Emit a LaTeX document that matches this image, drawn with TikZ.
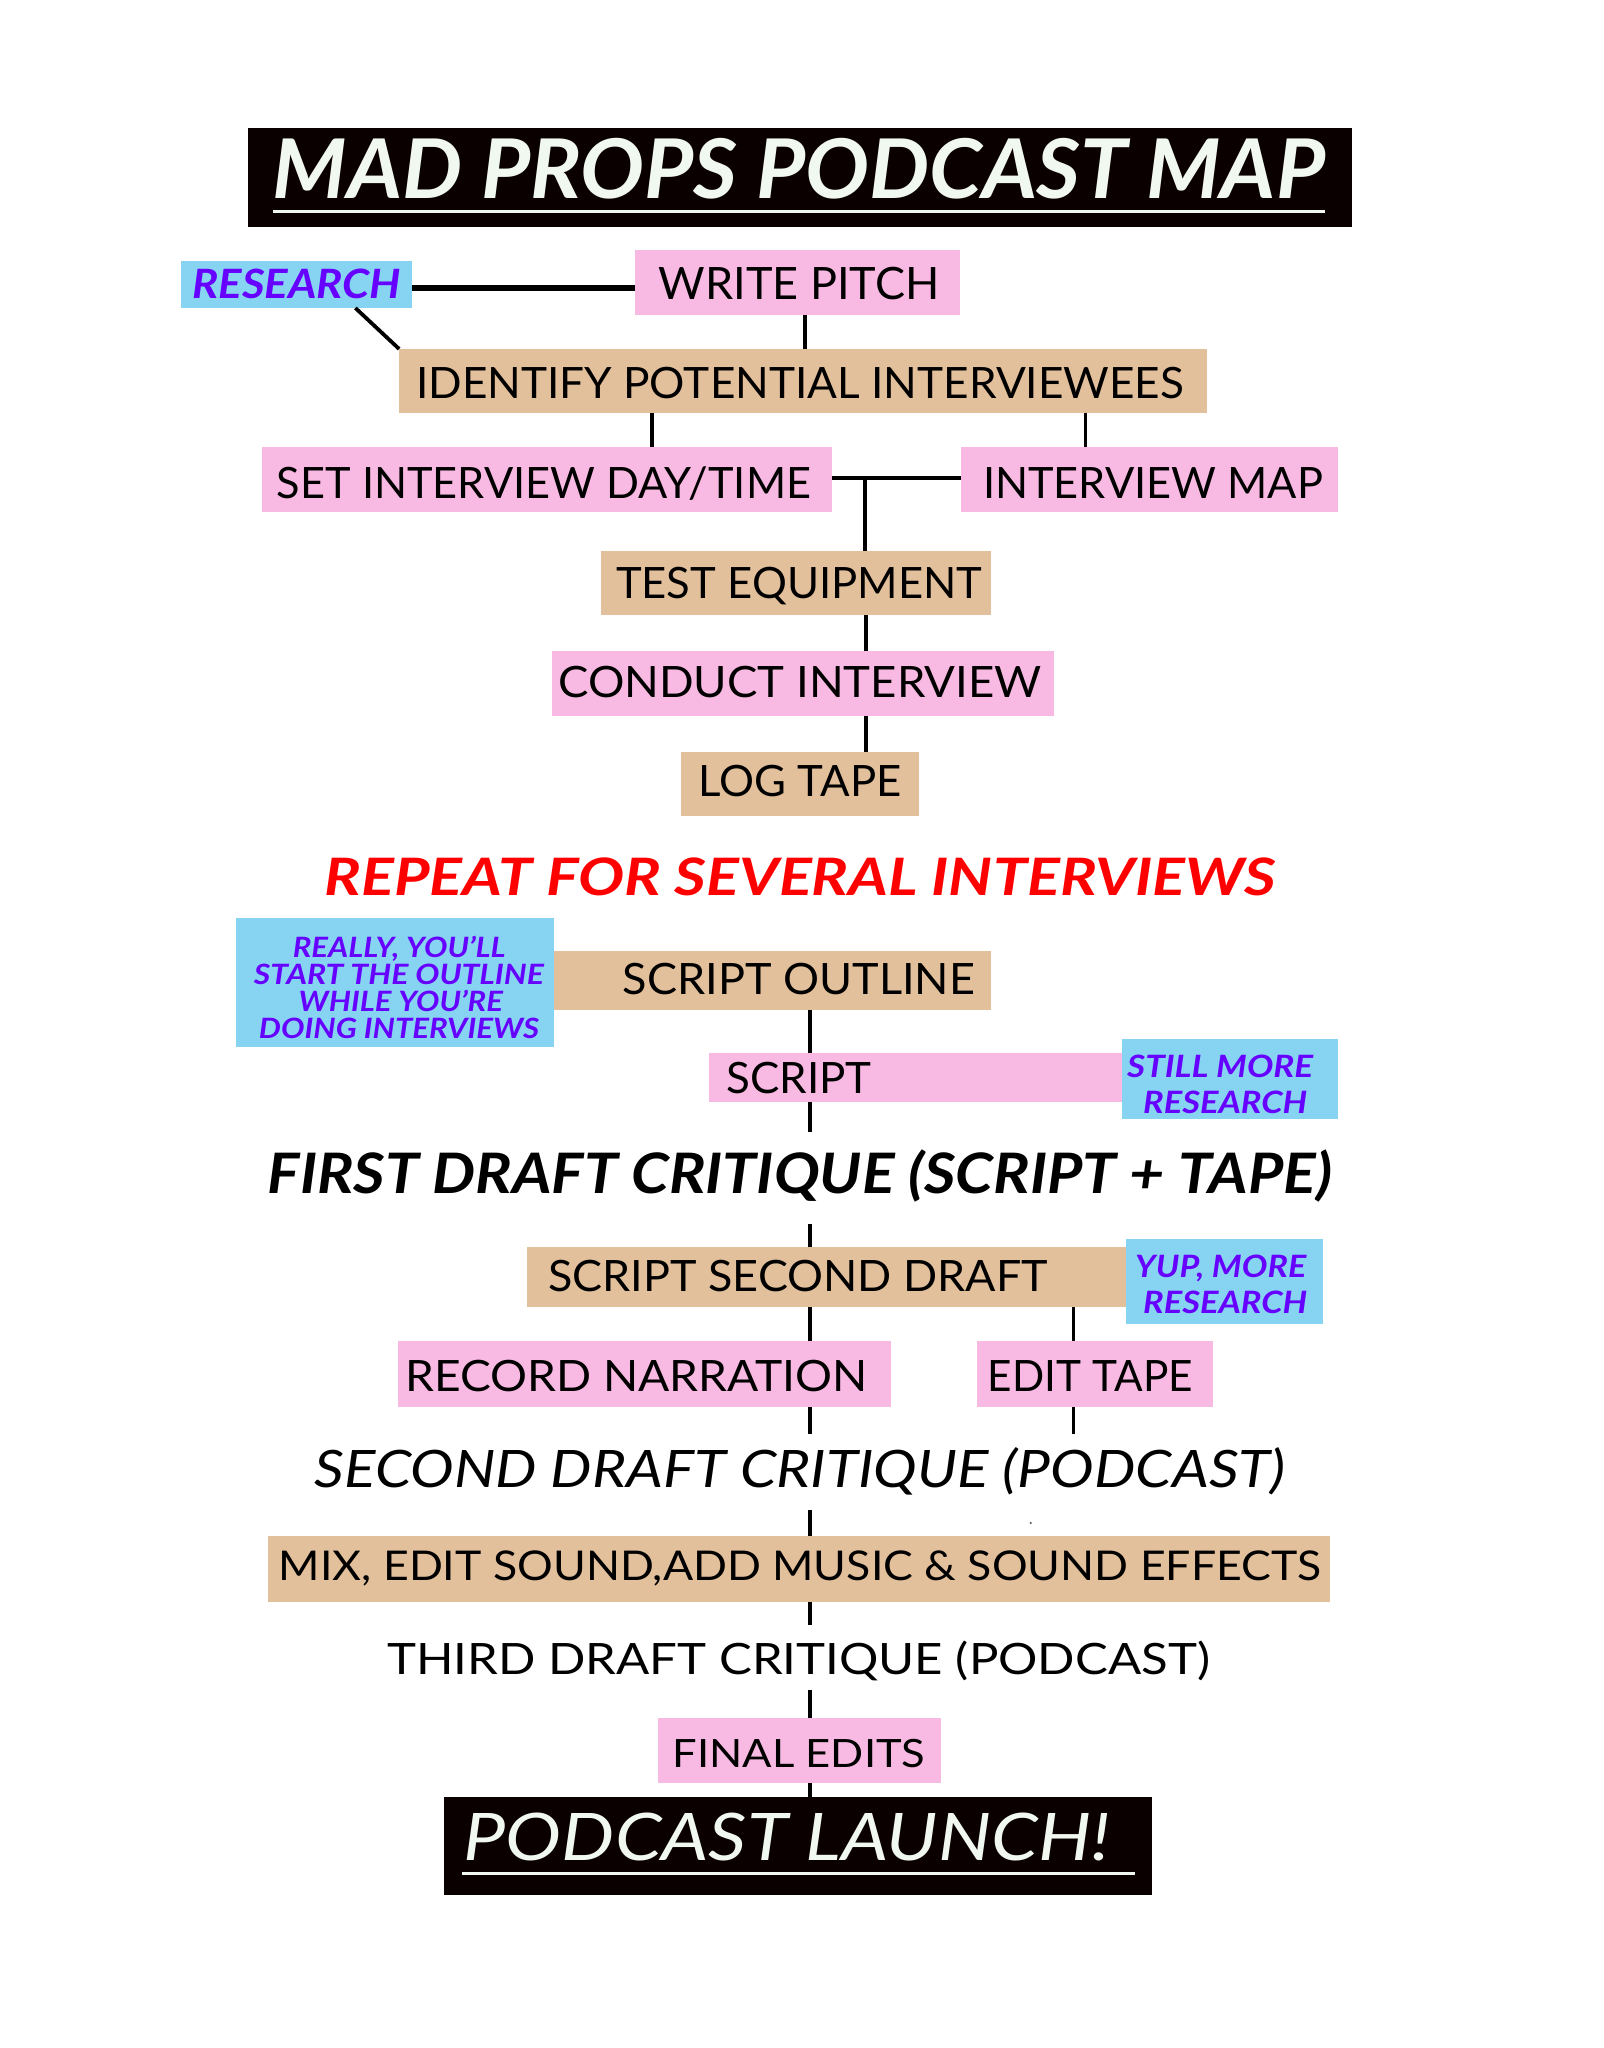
\documentclass[tikz,border=0pt]{standalone}
\usepackage{fontspec}
\setmainfont{Lato}
\usepackage{graphicx}
\definecolor{pinkc}{RGB}{248,186,226}
\definecolor{tanc}{RGB}{227,192,156}
\definecolor{bluec}{RGB}{135,212,242}
\definecolor{purpc}{RGB}{102,0,255}
\definecolor{redc}{RGB}{255,0,0}
\definecolor{blackc}{RGB}{10,0,0}
\definecolor{titlew}{RGB}{240,248,240}
\newlength\fitlen
\newcommand\fitw[2]{\setlength\fitlen{#1}\setlength\fitlen{0.9946\fitlen}\resizebox{\fitlen}{\height}{#2}}
\newcommand\bx[6]{\node[#2, minimum width={(#5-#3)*0.4973pt}, minimum height={(#6-#4)*0.5pt}] (#1) at ({(#3+#5)/2},{(#4+#6)/2}) {};}
\newcommand\fs[1]{\fontsize{#1}{#1}\selectfont}
\tikzset{
  boxbase/.style={rectangle, draw=none, inner sep=0pt, outer sep=0pt},
  pinkbox/.style={boxbase, fill=pinkc},
  tanbox/.style={boxbase, fill=tanc},
  bluebox/.style={boxbase, fill=bluec},
  blackbox/.style={boxbase, fill=blackc},
  txt/.style={inner sep=0pt, outer sep=0pt, anchor=base west, text=black},
  stepfont/.style={txt, font=\fs{21.6pt}},
  notefont/.style={txt, font=\fs{15.4pt}\bfseries\itshape, text=purpc},
  smallnote/.style={txt, font=\fs{14pt}\bfseries\itshape, text=purpc},
  conn/.style={draw=black, line width=1.9pt},
  connthick/.style={draw=black, line width=2.6pt},
  connmed/.style={draw=black, line width=2.2pt},
}
\begin{document}
\begin{tikzpicture}[x=0.5pt,y=-0.5pt]
\useasboundingbox (0,0) rectangle (1603,2048);
\fill[white] (0,0) rectangle (1603,2048);
\begin{scope}[shift={(1.334,0)}, xscale=0.9946]
% boxes
\bx{title}{blackbox}{247.5}{128}{1358}{227}
\bx{res}{bluebox}{181}{261}{413}{308}
\bx{wp}{pinkbox}{637}{250}{964}{315}
\bx{idn}{tanbox}{400}{349}{1212}{413}
\bx{set}{pinkbox}{262}{447}{835}{512}
\bx{imap}{pinkbox}{965}{447}{1344}{512}
\bx{test}{tanbox}{603}{551}{995}{615}
\bx{cond}{pinkbox}{554}{651}{1058}{716}
\bx{log}{tanbox}{683}{752}{923}{816}
\bx{really}{bluebox}{236}{918}{556}{1047}
\bx{outl}{tanbox}{556}{951}{995}{1010}
\bx{scr}{pinkbox}{711}{1053}{1127}{1102}
\bx{still}{bluebox}{1127}{1039}{1344}{1119}
\bx{ssd}{tanbox}{529}{1247}{1131}{1307}
\bx{yup}{bluebox}{1131}{1239}{1329}{1324}
\bx{rec}{pinkbox}{399}{1341}{894}{1407}
\bx{edit}{pinkbox}{981}{1341}{1218}{1407}
\bx{mix}{tanbox}{268}{1536}{1336}{1602}
\bx{fin}{pinkbox}{660}{1718}{945}{1783}
\bx{launch}{blackbox}{445}{1797}{1157}{1895}

% texts
\node[txt, font=\fs{41.2pt}\bfseries\itshape, text=titlew] (ttitle) at (273,199) {\fitw{529pt}{MAD PROPS PODCAST MAP}};
\draw[titlew, line width=1.5pt] (273,212) -- (1331,212);
\node[txt, font=\fs{20.2pt}\bfseries\itshape, text=purpc] (tres) at (192,299) {\fitw{105pt}{RESEARCH}};
\node[txt, font=\fs{22.3pt}] (twp) at (661,300) {\fitw{141pt}{WRITE PITCH}};
\node[stepfont] (tidn) at (417,399) {\fitw{386pt}{IDENTIFY POTENTIAL INTERVIEWEES}};
\node[stepfont] (tset) at (277,498) {\fitw{268.5pt}{SET INTERVIEW DAY/TIME}};
\node[stepfont] (timap) at (987,498) {\fitw{171pt}{INTERVIEW MAP}};
\node[stepfont] (ttest) at (618,598) {\fitw{184pt}{TEST EQUIPMENT}};
\node[stepfont] (tcond) at (560,697) {\fitw{243pt}{CONDUCT INTERVIEW}};
\node[stepfont] (tlog) at (701,796) {\fitw{102pt}{LOG TAPE}};
\node[txt, font=\fs{25.8pt}\bfseries\itshape, text=redc] (trep) at (325,895) {\fitw{478pt}{REPEAT FOR SEVERAL INTERVIEWS}};
\node[smallnote] (tr1) at (293,957) {\fitw{107pt}{REALLY, YOU’LL}};
\node[smallnote] (tr2) at (254,984) {\fitw{145.8pt}{START THE OUTLINE}};
\node[smallnote] (tr3) at (299,1011) {\fitw{102.6pt}{WHILE YOU’RE}};
\node[smallnote] (tr4) at (259,1038) {\fitw{140.8pt}{DOING INTERVIEWS}};
\node[stepfont] (toutl) at (625,994) {\fitw{177pt}{SCRIPT OUTLINE}};
\node[stepfont] (tscr) at (729,1093) {\fitw{73pt}{SCRIPT}};
\node[notefont] (ts1) at (1132,1077) {\fitw{93.5pt}{STILL MORE}};
\node[notefont] (ts2) at (1148,1113) {\fitw{82.5pt}{RESEARCH}};
\node[txt, font=\fs{27.9pt}\bfseries\itshape, text height=30.5pt, text depth=15.5pt] (fd) at (268,1193) {\fitw{535pt}{FIRST DRAFT CRITIQUE (SCRIPT + TAPE)}};
\node[stepfont] (tssd) at (550,1291) {\fitw{251pt}{SCRIPT SECOND DRAFT}};
\node[notefont] (ty1) at (1140,1277) {\fitw{86pt}{YUP, MORE}};
\node[notefont] (ty2) at (1148,1313) {\fitw{82.5pt}{RESEARCH}};
\node[stepfont] (trec) at (406,1391) {\fitw{232.5pt}{RECORD NARRATION}};
\node[stepfont] (tedit) at (992,1391) {\fitw{103pt}{EDIT TAPE}};
\node[txt, font=\fs{25.8pt}\itshape, text height=26.5pt, text depth=11.5pt] (sd) at (315,1487) {\fitw{488pt}{SECOND DRAFT CRITIQUE (PODCAST)}};
\node[txt, font=\fs{20.5pt}] (tmix) at (279,1580) {\fitw{524pt}{MIX, EDIT SOUND,ADD MUSIC \& SOUND EFFECTS}};
\node[txt, font=\fs{21.6pt}, text height=24.5pt, text depth=8pt] (td) at (388,1674) {\fitw{413.5pt}{THIRD DRAFT CRITIQUE (PODCAST)}};
\node[txt, font=\fs{19.5pt}] (tfin) at (675,1767) {\fitw{127pt}{FINAL EDITS}};
\node[txt, font=\fs{32.8pt}\itshape, text=titlew] (tlaunch) at (465,1860) {\fitw{325pt}{PODCAST LAUNCH!}};
\draw[titlew, line width=1.5pt] (463,1873) -- (1140,1873);

% connectors
\draw[connthick] (res.east |- 0,288) -- (wp.west |- 0,288);
\draw[conn] (res.south -| 356,0) -- (idn.north west);
\draw[conn] (wp.south -| 808,0) -- (idn.north -| 808,0);
\draw[conn] (idn.south -| 654,0) -- (set.north -| 654,0);
\draw[conn] (idn.south -| 1090,0) -- (imap.north -| 1090,0);
\draw[connmed] (set.east |- 0,478) -- (imap.west |- 0,478);
\coordinate (j) at (868,476);
\draw[conn] (j) -- (test.north -| j);
\draw[conn] (test.south -| 869,0) -- (cond.north -| 869,0);
\draw[conn] (cond.south -| 869,0) -- (log.north -| 869,0);
\draw[conn] (outl.south -| 813,0) -- (scr.north -| 813,0);
\draw[conn] (scr.south -| 813,0) -- (fd.north -| 813,0);
\draw[conn] (fd.south -| 813,0) -- (ssd.north -| 813,0);
\draw[conn] (ssd.south -| 813,0) -- (rec.north -| 813,0);
\draw[conn] (ssd.south -| 1078,0) -- (edit.north -| 1078,0);
\draw[conn] (rec.south -| 813,0) -- (sd.north -| 813,0);
\draw[conn] (edit.south -| 1078,0) -- (sd.north -| 1078,0);
\draw[conn] (sd.south -| 813,0) -- (mix.north -| 813,0);
\draw[conn] (mix.south -| 813,0) -- (td.north -| 813,0);
\draw[conn] (td.south -| 813,0) -- (fin.north -| 813,0);
\draw[conn] (fin.south -| 813,0) -- (launch.north -| 813,0);
\fill[black!70] (1035,1523) circle (1.2);
\end{scope}
\end{tikzpicture}
\end{document}
